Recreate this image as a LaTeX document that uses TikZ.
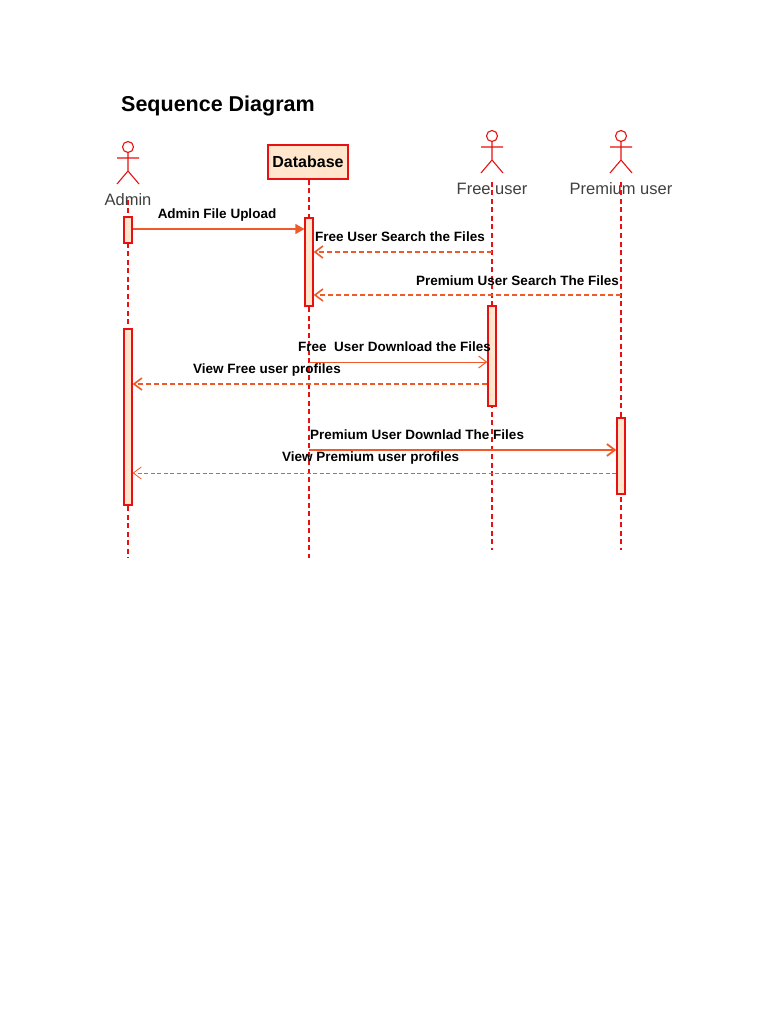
\documentclass[tikz,border=0pt]{standalone}
\usepackage{fontspec}
\setmainfont{Liberation Sans}
\usetikzlibrary{arrows.meta}
\definecolor{lred}{HTML}{E81010}
\definecolor{aor}{HTML}{F05A28}
\definecolor{peach}{HTML}{FFE6CC}
\begin{document}
\begin{tikzpicture}[x=1pt,y=-1pt,
  life/.style={lred,line width=2pt,dash pattern=on 5pt off 3.5pt},
  act/.style={draw=lred,fill=peach,line width=1.2pt},
  msg/.style={aor,line width=1.2pt},
  ret/.style={aor,line width=1.6pt,dash pattern=on 5pt off 3pt},
  openhead/.style={-{Straight Barb[length=8pt,width=12pt]}},
  lbl/.style={font=\bfseries\fontsize{13.5}{15}\selectfont,inner sep=1pt},
  alab/.style={font=\fontsize{16.5}{18}\selectfont,text=black!75,inner sep=0pt},
  actor/.style={lred,line width=1.1pt}]
\useasboundingbox (0,0) rectangle (768,1024);
\node[anchor=west,font=\bfseries\fontsize{21.5}{24}\selectfont,inner sep=0pt] (title) at (121,106) {Sequence Diagram};
% actors
\foreach \x/\y in {128/147,492/136,621/136}{
  \draw[actor] (\x,\y) circle (5.5);
  \draw[actor] (\x,\y+5.5) -- (\x,\y+24) (\x-11,\y+11) -- (\x+11,\y+11) (\x-11,\y+37) -- (\x,\y+24) -- (\x+11,\y+37);
}
\node[alab] (adminl) at (128,200) {Admin};
\node[alab] (freel) at (492,189) {Free user};
\node[alab] (preml) at (621,189) {Premium user};
\node[draw=lred,fill=peach,line width=1.2pt,minimum width=80pt,minimum height=34pt,font=\bfseries\fontsize{16}{18}\selectfont] (db) at (308,162) {Database};
% lifelines
\coordinate (a0) at (128,200); \coordinate (a1) at (128,558);
\coordinate (d1) at (309,558);
\coordinate (f0) at (492,182); \coordinate (f1) at (492,550);
\coordinate (p0) at (621,182); \coordinate (p1) at (621,550);
\draw[life] (a0) -- (a1);
\draw[life] (db.south -| d1) -- (d1);
\draw[life] (f0) -- (f1);
\draw[life] (p0) -- (p1);
% activations
\node[act,minimum width=8pt,minimum height=26pt,inner sep=0pt] (aa1) at (128,230) {};
\node[act,minimum width=8pt,minimum height=176pt,inner sep=0pt] (aa2) at (128,417) {};
\node[act,minimum width=8pt,minimum height=88pt,inner sep=0pt] (da) at (309,262) {};
\node[act,minimum width=8pt,minimum height=100pt,inner sep=0pt] (fa) at (492,356) {};
\node[act,minimum width=8pt,minimum height=76pt,inner sep=0pt] (pa) at (621,456) {};
% messages
\draw[msg,-{Triangle[length=9pt,width=10pt]}] (aa1.east |- 0,229) -- (da.west |- 0,229);
\node[lbl] (m1) at (217,215) {Admin File Upload};
\draw[ret,openhead] (fa.center |- 0,252) -- (da.east |- 0,252);
\node[lbl,anchor=west] (m2) at (314,237) {Free User Search the Files};
\draw[ret,openhead] (pa.center |- 0,295) -- (da.east |- 0,295);
\node[lbl,anchor=east] (m3) at (620,281) {Premium User Search The Files};
\draw[msg,line width=1pt,openhead] (da.center |- 0,362) -- (fa.west |- 0,362);
\node[lbl,anchor=west] (m4) at (297,347) {Free\ \ User Download the Files};
\draw[ret,openhead] (fa.west |- 0,384) -- (aa2.east |- 0,384);
\node[lbl,anchor=west] (m5) at (192,370) {View Free user profiles};
\draw[msg,line width=1.8pt,openhead] (da.center |- 0,450) -- (pa.west |- 0,450);
\node[lbl,anchor=west] (m6) at (309,435) {Premium User Downlad The Files};
\draw[aor,line width=0.8pt,dash pattern=on 4pt off 2.5pt,openhead] (pa.west |- 0,473) -- (aa2.east |- 0,473);
\node[lbl,anchor=west] (m7) at (281,458) {View Premium user profiles};
\end{tikzpicture}
\end{document}
